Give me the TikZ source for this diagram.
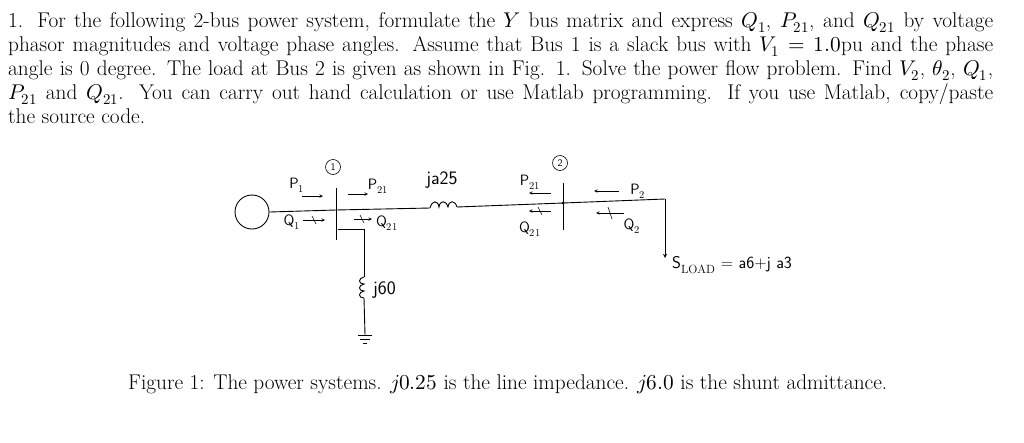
\documentclass[tikz,border=0pt]{standalone}
\usepackage{fontspec}
\usepackage{unicode-math}
\begin{document}
\begin{tikzpicture}[x=1pt,y=-1pt,
  txt/.style={anchor=base west,inner sep=0pt,font=\fontsize{21.3}{24}\selectfont},
  hand/.style={inner sep=0pt,font=\sffamily\fontsize{15}{16}\selectfont},
  wire/.style={line width=0.9pt},
  flow/.style={-stealth,line width=0.6pt},
  tick/.style={line width=0.6pt}]
\useasboundingbox (0,0) rectangle (1024,442);
\node[txt] (l1) at (8,27) {\makebox[985pt][s]{1. For the following 2-bus power system, formulate the $Y$ bus matrix and express $Q_1$, $P_{21}$, and $Q_{21}$ by voltage}};
\node[txt] (l2) at (8,51) {\makebox[985pt][s]{phasor magnitudes and voltage phase angles. Assume that Bus 1 is a slack bus with $V_1=1.0$pu and the phase}};
\node[txt] (l3) at (8,75) {\makebox[985pt][s]{angle is 0 degree. The load at Bus 2 is given as shown in Fig. 1. Solve the power flow problem. Find $V_2$, $\theta_2$, $Q_1$,}};
\node[txt] (l4) at (8,99) {\makebox[985pt][s]{$P_{21}$ and $Q_{21}$. You can carry out hand calculation or use Matlab programming. If you use Matlab, copy/paste}};
\node[txt] (l5) at (8,123) {the source code.};
\node[txt] (cap) at (128,389) {Figure 1: The power systems. $j0.25$ is the line impedance. $j6.0$ is the shunt admittance.};
% generator
\node[circle,draw,line width=0.9pt,minimum size=34pt,inner sep=0pt] (gen) at (252,212) {};
% buses
\coordinate (b1t) at (336,188); \coordinate (b1b) at (336,240);
\coordinate (b2t) at (563,183); \coordinate (b2b) at (563,230);
\draw[wire] (b1t) -- (b1b);
\draw[wire] (b2t) -- (b2b);
\coordinate (b1) at (336,210);
\coordinate (l0) at (430,208);
\coordinate (l1e) at (457,207);
\coordinate (b2) at (563,203);
\coordinate (cr) at (665,199);
\coordinate (ld) at (665,258);
\draw[wire] (gen.east) -- (b1) -- (l0);
\draw[wire] (l0) .. controls (432,200) and (438,200) .. (439,207) .. controls (440,200) and (446,200) .. (448,207) .. controls (449,200) and (455,200) .. (l1e);
\draw[wire] (l1e) -- (b2) -- (cr);
\draw[wire,-stealth] (cr) -- (ld);
\fill (b2) circle (1.5pt);
% shunt
\coordinate (s0) at (338,229); \coordinate (s1) at (364,229);
\coordinate (c0) at (364,277); \coordinate (c1) at (364,298);
\coordinate (gnd) at (365,335);
\draw[wire] (s0) -- (s1) -- (c0);
\draw[wire] (c0) .. controls (358,278) and (358,284) .. (364,284) .. controls (358,285) and (358,291) .. (364,291) .. controls (358,292) and (358,298) .. (c1);
\draw[wire] (c1) -- (gnd);
\draw[line width=0.7pt] (358,335) -- (372,335) (360,339) -- (370,339) (363,343) -- (367,343);
\node[hand,anchor=west] (j60) at (373,290) {\fontsize{19}{20}\selectfont j60};
\node[hand] (jl) at (442,180) {\fontsize{19}{20}\selectfont ja25};
% bus labels
\node[circle,draw,line width=0.6pt,inner sep=1pt,minimum size=15pt,font=\sffamily\fontsize{10}{10}\selectfont] (n1) at (333,167) {1};
\node[circle,draw,line width=0.6pt,inner sep=1pt,minimum size=15pt,font=\sffamily\fontsize{10}{10}\selectfont] (n2) at (560,163) {2};
% flows bus1
\node[hand] (p1) at (297,185) {P$_1$};
\draw[flow] (302,196) -- (323,196);
\node[hand] (q1) at (292,222) {Q$_1$};
\draw[flow] (303,220) -- (325,220); \draw[tick] (312,216) -- (316,224);
\node[hand] (p21a) at (378,186) {P$_{21}$};
\draw[flow] (348,194) -- (368,194);
\node[hand] (q21a) at (387,223) {Q$_{21}$};
\draw[flow] (354,219) -- (372,219); \draw[tick] (360,215) -- (364,223);
% flows bus2
\node[hand] (p21b) at (530,182) {P$_{21}$};
\draw[flow] (551,193) -- (529,193);
\node[hand] (q21b) at (530,229) {Q$_{21}$};
\draw[flow] (551,211) -- (529,211); \draw[tick] (538,207) -- (542,215);
\node[hand] (p2) at (638,191) {P$_2$};
\draw[flow] (619,191) -- (594,191);
\node[hand] (q2) at (632,226) {Q$_2$};
\draw[flow] (624,213) -- (596,213); \draw[tick] (608,207) -- (612,219);
\node[hand,anchor=west] (sl) at (672,265) {\fontsize{17}{18}\selectfont S$_{\mathrm{LOAD}}$ = a6+j a3};
\end{tikzpicture}
\end{document}
